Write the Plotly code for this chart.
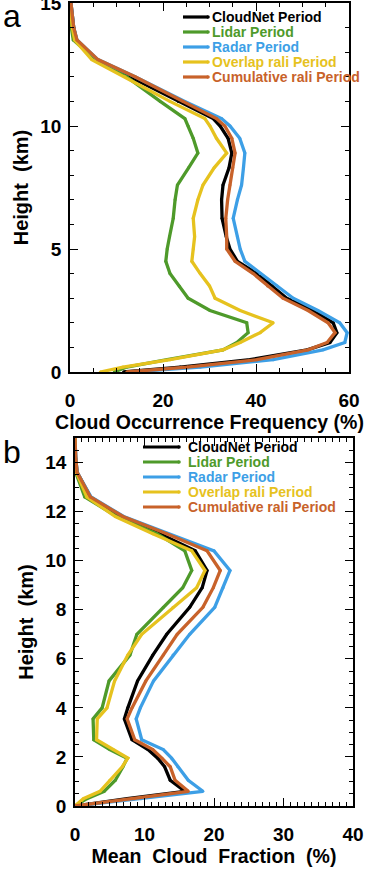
import plotly.graph_objects as go

# ---------------- data ----------------
series_names = ["CloudNet Period", "Lidar Period", "Radar Period",
                "Overlap rali Period", "Cumulative rali Period"]
series_colors = ["#000000", "#4e9a2a", "#3d9fe6", "#e6c21e", "#c8622a"]

# Panel a: cloud occurrence frequency (%) vs height (km)
height_a = [0, 0.2, 0.5, 0.9, 1.2, 1.6, 2.0, 2.5, 3.0, 3.5, 4.0, 4.5, 5.0, 5.5,
            6.25, 7.0, 7.6, 8.3, 8.9, 9.5, 10.0, 10.3, 11.0, 12.0, 12.7, 13.5, 14.0, 15.0]
cloudnet_a = [11.5, 23.7, 38.7, 51.0, 55.9, 57.4, 56.6, 52.3, 46.6, 43.5, 40.2, 36.0, 34.4, 33.6,
              32.7, 32.6, 32.9, 34.2, 34.8, 34.0, 32.3, 30.8, 23.3, 12.9, 5.7, 1.4, 0.8, 0.2]
lidar_a = [9.5, 12.2, 20.9, 32.9, 35.9, 38.3, 38.0, 30.1, 25.4, 23.5, 21.5, 20.6, 20.9, 21.4,
           22.2, 22.6, 23.1, 25.5, 27.5, 26.5, 25.4, 24.7, 19.4, 12.2, 5.5, 0.7, 0.3, 0.0]
radar_a = [13.0, 28.0, 43.7, 54.4, 59.1, 59.6, 58.0, 53.3, 48.0, 44.5, 40.9, 37.6, 36.6, 36.0,
           35.1, 36.0, 36.9, 37.3, 37.6, 36.5, 34.4, 32.6, 24.7, 14.0, 6.0, 1.5, 0.8, 0.2]
overlap_a = [6.5, 11.4, 21.5, 32.9, 36.6, 40.9, 43.7, 36.6, 31.2, 30.0, 28.0, 26.2, 26.5, 26.8,
             26.5, 27.5, 28.6, 31.0, 33.7, 31.5, 30.1, 29.0, 21.5, 11.8, 4.7, 1.0, 0.5, 0.0]
cumulative_a = [12.2, 25.2, 40.2, 51.2, 55.3, 57.0, 55.5, 51.2, 45.8, 42.5, 39.4, 35.5, 33.7, 33.7,
                33.5, 33.9, 34.4, 35.0, 35.5, 34.8, 33.3, 31.5, 24.3, 14.0, 6.0, 1.5, 0.8, 0.2]

# Panel b: mean cloud fraction (%) vs height (km)
height_b = [0, 0.3, 0.6, 1.05, 1.6, 1.95, 2.3, 2.7, 3.55, 4.0, 5.1, 6.15, 7.0, 8.1, 8.9, 9.6,
            10.4, 11.1, 11.8, 12.6, 13.6, 14.2, 15.0]
cloudnet_b = [0.2, 7.5, 15.8, 13.7, 12.9, 11.9, 10.5, 8.2, 7.1, 7.6, 9.0, 11.2, 13.2, 16.5, 18.3, 19.0,
              17.3, 12.2, 6.5, 2.2, 0.3, 0.1, 0.0]
lidar_b = [0.0, 1.7, 4.2, 5.8, 6.9, 7.5, 5.0, 2.7, 2.6, 3.9, 4.9, 7.9, 8.9, 12.7, 15.5, 16.8,
           15.8, 11.8, 6.0, 1.4, 0.1, 0.0, 0.0]
radar_b = [0.0, 9.5, 18.4, 16.3, 14.8, 13.9, 12.7, 9.6, 8.8, 9.4, 11.3, 14.1, 16.5, 20.1, 21.3, 22.3,
           20.0, 13.4, 7.0, 2.3, 0.3, 0.1, 0.0]
overlap_b = [0.0, 1.2, 3.6, 5.0, 6.8, 7.6, 5.5, 3.1, 3.2, 4.6, 5.7, 7.6, 9.6, 14.1, 17.5, 18.7,
             16.8, 11.2, 5.8, 1.7, 0.2, 0.05, 0.0]
cumulative_b = [0.0, 8.5, 16.3, 14.4, 13.7, 12.5, 11.2, 8.6, 7.5, 8.2, 10.2, 12.7, 14.7, 18.4, 19.9, 20.9,
                19.0, 13.2, 6.9, 2.2, 0.3, 0.1, 0.0]

x_ticks_a = [0, 20, 40, 60]
y_ticks_a = [0, 5, 10, 15]
x_ticks_b = [0, 10, 20, 30, 40]
y_ticks_b = [0, 2, 4, 6, 8, 10, 12, 14]

# ---------------- figure ----------------
FONT = "Liberation Sans"
W, H = 365, 870
NB = "\u00a0"  # non-breaking space widens word gaps like the original typeface

fig = go.Figure()

panel_a = [cloudnet_a, lidar_a, radar_a, overlap_a, cumulative_a]
panel_b = [cloudnet_b, lidar_b, radar_b, overlap_b, cumulative_b]

for name, color, vals in zip(series_names, series_colors, panel_a):
    fig.add_trace(go.Scatter(
        x=vals, y=height_a, mode="lines+markers", showlegend=False,
        line=dict(color=color, width=3.3), marker=dict(color=color, size=3),
        name=name, xaxis="x", yaxis="y"))

for name, color, vals in zip(series_names, series_colors, panel_b):
    fig.add_trace(go.Scatter(
        x=vals, y=height_b, mode="lines+markers", showlegend=False,
        line=dict(color=color, width=3.3), marker=dict(color=color, size=3),
        name=name, xaxis="x2", yaxis="y2"))


def axis_common(**kw):
    d = dict(showline=True, linecolor="black", linewidth=1.5, mirror="allticks",
             ticks="inside", ticklen=8, tickwidth=1.2, tickcolor="black",
             showgrid=False, zeroline=False, automargin=False,
             ticklabeloverflow="allow",
             tickfont=dict(family=FONT, size=19, color="black", weight="bold"))
    d.update(kw)
    return d


title_font = dict(family=FONT, size=19.5, weight="bold", color="black")
ytitle_font = dict(family=FONT, size=20, weight="bold", color="black")

# legend drawn as line samples + coloured labels (one block per panel)
shapes = []
annotations = []
legend_blocks = [
    # (line x0, line x1, text x, row y centres)
    (183, 208, 210, [17, 32, 47, 62, 77]),
    (143, 179, 186, [447, 462, 477, 492, 507]),
]
for lx0, lx1, tx, rows in legend_blocks:
    for name, color, ry in zip(series_names, series_colors, rows):
        shapes.append(dict(type="line", xref="paper", yref="paper",
                           x0=lx0 / W, x1=lx1 / W, y0=1 - ry / H, y1=1 - ry / H,
                           line=dict(color=color, width=3.2)))
        shapes.append(dict(type="circle", xref="paper", yref="paper",
                           x0=(lx1 - 1.8) / W, x1=(lx1 + 1.8) / W,
                           y0=1 - (ry + 1.8) / H, y1=1 - (ry - 1.8) / H,
                           fillcolor=color, line=dict(color=color, width=0)))
        annotations.append(dict(text=name, x=tx / W, y=1 - ry / H,
                                xref="paper", yref="paper", xanchor="left", yanchor="middle",
                                showarrow=False,
                                font=dict(family=FONT, size=14, color=color, weight="bold")))

annotations += [
    dict(text="a", x=12 / W, y=1 - 16 / H, xref="paper", yref="paper",
         xanchor="center", yanchor="middle",
         showarrow=False, font=dict(family=FONT, size=32, color="black")),
    dict(text="b", x=12 / W, y=1 - 452 / H, xref="paper", yref="paper",
         xanchor="center", yanchor="middle",
         showarrow=False, font=dict(family=FONT, size=32, color="black")),
]

fig.update_layout(
    width=W, height=H, margin=dict(l=0, r=0, t=0, b=0),
    paper_bgcolor="white", plot_bgcolor="white",
    font=dict(family=FONT, color="black"),
    showlegend=False,
    xaxis=axis_common(domain=[70 / W, 349 / W], range=[0, 60], anchor="y",
                      tickvals=x_ticks_a, ticklabelstandoff=10,
                      minor=dict(dtick=5, ticklen=4, ticks="inside", tickcolor="black"),
                      title=dict(text="Cloud Occurrence Frequency (%)",
                                 standoff=4, font=title_font)),
    yaxis=axis_common(domain=[1 - 372 / H, 1 - 3 / H], range=[0, 15], anchor="x",
                      tickvals=y_ticks_a, ticklabelstandoff=3,
                      minor=dict(dtick=1, ticklen=4, ticks="inside", tickcolor="black"),
                      title=dict(text="Height " + NB + "(km)", standoff=6, font=ytitle_font)),
    xaxis2=axis_common(domain=[75 / W, 353 / W], range=[0, 40], anchor="y2",
                       tickvals=x_ticks_b, ticklabelstandoff=10,
                       minor=dict(dtick=1, ticklen=4, ticks="inside", tickcolor="black"),
                       title=dict(text=(" " + NB).join(["Mean", "Cloud", "Fraction", "(%)"]),
                                  standoff=4, font=title_font)),
    yaxis2=axis_common(domain=[1 - 806 / H, 1 - 438 / H], range=[0, 15], anchor="x2",
                       tickvals=y_ticks_b, ticklabelstandoff=3,
                       minor=dict(dtick=0.5, ticklen=4, ticks="inside", tickcolor="black"),
                       title=dict(text="Height " + NB + "(km)", standoff=6, font=ytitle_font)),
    shapes=shapes,
    annotations=annotations,
)

fig.write_html("out.html",
               config={"displayModeBar": False},
               post_script="document.body.style.margin='0px';"
                           "document.body.style.overflow='hidden';")
